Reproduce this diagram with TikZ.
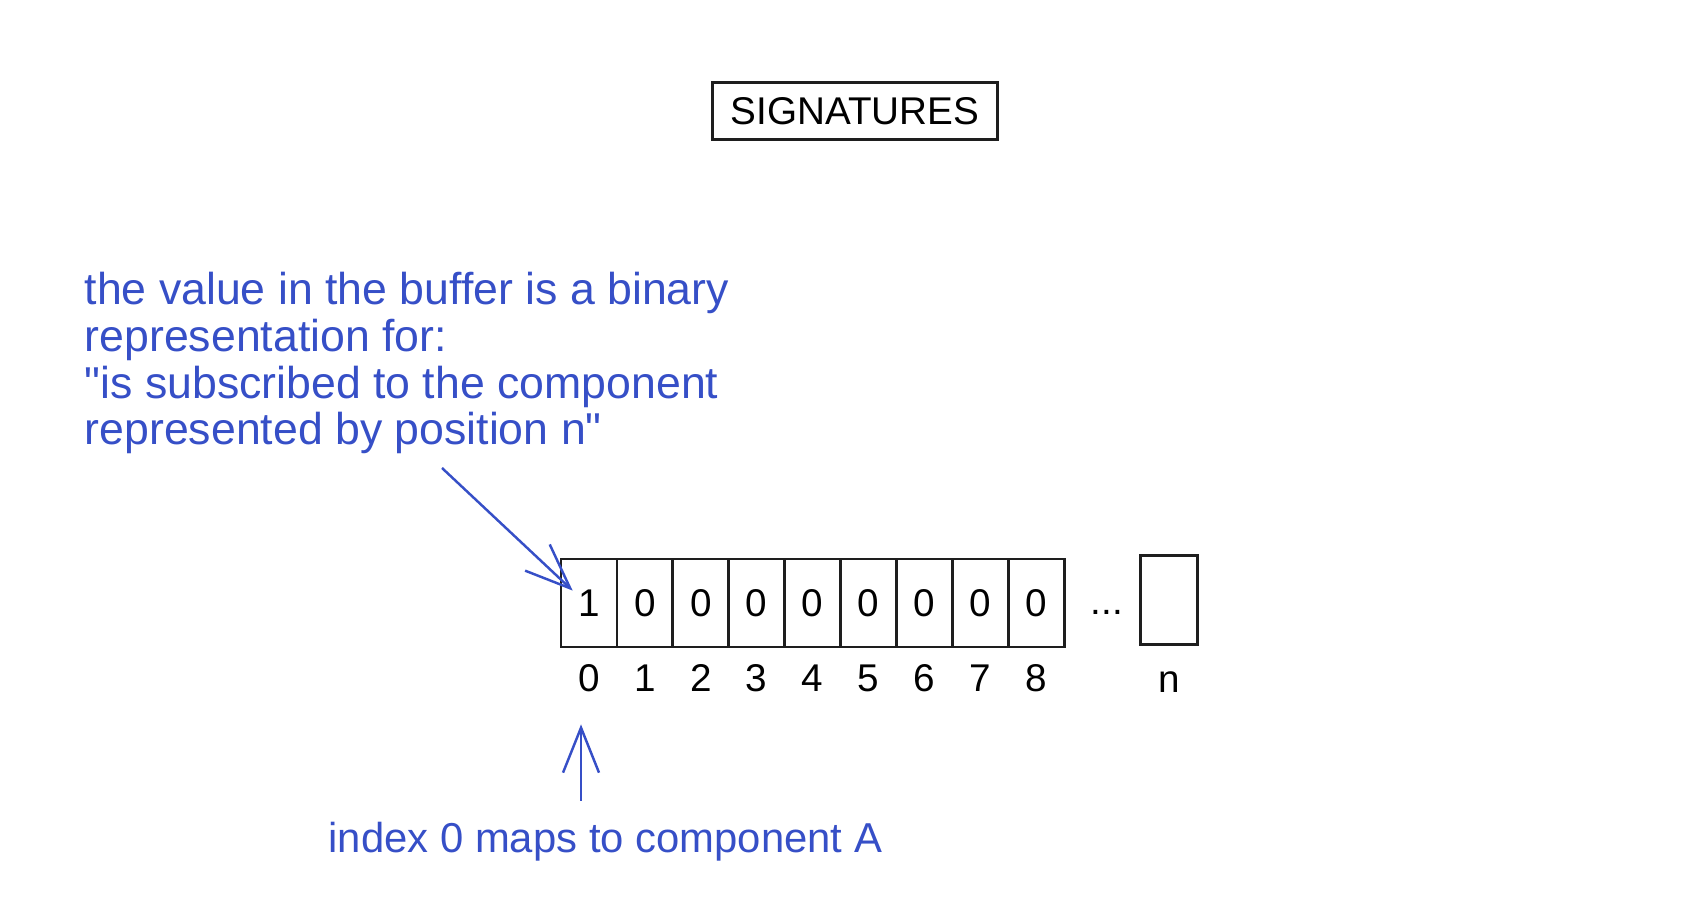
\documentclass[tikz,border=0pt]{standalone}
\usepackage{fontspec}
\setmainfont{Liberation Sans}
\usepackage{xcolor}
\usepackage{tikz}
\usetikzlibrary{arrows.meta,positioning,calc}
\definecolor{ink}{HTML}{1E1E1E}
\definecolor{pen}{HTML}{364FC7}
\tikzset{
  stitle/.style={draw=ink,line width=0.8pt,minimum width=2.85cm,minimum height=0.57cm,inner sep=0pt,font=\fontsize{11}{13}\selectfont},
  scell/.style={draw=ink,line width=0.8pt,minimum width=0.559cm,minimum height=0.88cm,inner sep=0pt,font=\fontsize{11}{13}\selectfont},
  sidx/.style={inner sep=0pt,font=\fontsize{11}{13}\selectfont},
  snote/.style={text=pen,align=flush left,inner sep=0pt,font=\fontsize{12.7}{13.3}\selectfont},
  sarr/.style={-{Straight Barb[length=4.5mm,width=3.6mm]},line width=0.7pt,draw=pen}
}
\begin{document}
\begin{tikzpicture}[font=\footnotesize]
  \useasboundingbox (0,0) rectangle (16.82,8.98);
  \node[stitle] (title) at (8.55,7.87) {SIGNATURES};
  \node[snote,anchor=base west] (info) at (0.84,4.53) {the value in the buffer is a binary\\
     representation for:\\ \textquotedbl is subscribed to the component\\ represented by position n\textquotedbl};
  \foreach \i/\v in {0/1,1/0,2/0,3/0,4/0,5/0,6/0,7/0,8/0}{
    \node[scell] (c\i) at ({5.89+0.559*\i},2.95) {\v};
    \node[sidx] (l\i) at ({5.89+0.559*\i},2.20) {\i};
  }
  \node[sidx] (dots) at (11.07,2.86) {...};
  \node[scell,minimum width=0.57cm,minimum height=0.89cm] (cn) at (11.69,2.98) {};
  \node[sidx] (ln) at (11.69,2.16) {n};
  \node[snote,anchor=base west,font=\fontsize{11.9}{13}\selectfont] (map) at (3.28,0.45) {index 0 maps to component A};
  \coordinate (ptr) at (4.42,4.30);
  \draw[sarr] (ptr) -- ($(c0.north west)+(0.13,-0.33)$);
  \draw[sarr,shorten <=0.21cm,shorten >=0.32cm] ([xshift=-0.8mm]map.north -| l0.south) -- ([xshift=-0.8mm]l0.south);
\end{tikzpicture}
\end{document}
